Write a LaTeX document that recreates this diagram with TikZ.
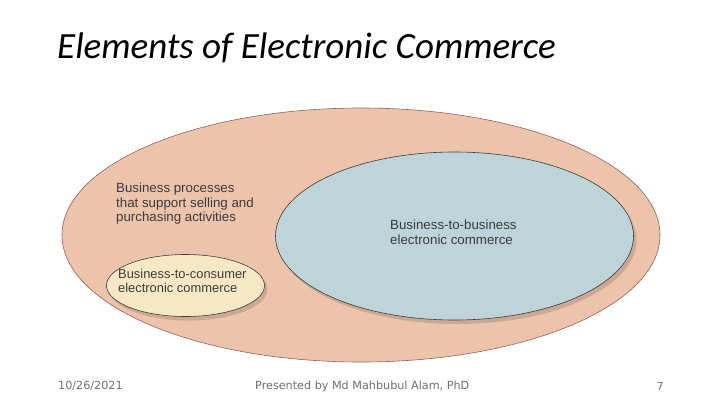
\documentclass[tikz,border=0pt]{standalone}
\usepackage{fontspec}
\setmainfont{Liberation Sans}
\newfontfamily\titlefont{Carlito}
\newfontfamily\footfont{DejaVu Sans}
\usetikzlibrary{shadows,shapes.geometric}
\definecolor{outerfill}{RGB}{236,196,172}
\definecolor{outeredge}{RGB}{140,100,90}
\definecolor{bluefill}{RGB}{190,212,216}
\definecolor{blueedge}{RGB}{60,60,60}
\definecolor{yellowfill}{RGB}{246,232,196}
\definecolor{labeltext}{RGB}{60,60,60}
\definecolor{foottext}{RGB}{110,110,110}
\tikzset{
  region/.style={ellipse, inner sep=0pt, line width=0.6pt},
  lbl/.style={text=labeltext, font=\fontsize{13.3}{14.3}\selectfont, align=left, inner sep=0pt, anchor=north west},
  foot/.style={text=foottext, font=\footfont\fontsize{11.2}{13}\selectfont, inner sep=0pt},
  softshadow/.style={drop shadow={shadow xshift=3pt, shadow yshift=-4pt, fill=black!20!outerfill, opacity=0.7}}
}
\begin{document}
\begin{tikzpicture}[x=1pt,y=-1pt]
\useasboundingbox (0,0) rectangle (720,405);
\node[anchor=west, inner sep=0pt, font=\titlefont\itshape\fontsize{37}{40}\selectfont] (title) at (57,48) {Elements of Electronic Commerce};
\node[region, draw=outeredge, fill=outerfill, minimum width=598pt, minimum height=254pt] (outer) at (361,235) {};
\node[region, draw=blueedge, fill=bluefill, softshadow, minimum width=358pt, minimum height=168pt] (b2b) at (454.5,236) {};
\node[region, draw=blueedge, fill=yellowfill, softshadow, minimum width=158pt, minimum height=62pt] (b2c) at (185.5,285.5) {};
\node[lbl] (proc) at (116,183) {Business processes\\that support selling and\\purchasing activities};
\node[lbl] (b2btext) at (390,220) {Business-to-business\\electronic commerce};
\node[lbl, font=\fontsize{12.9}{14}\selectfont] (b2ctext) at (118,269) {Business-to-consumer\\electronic commerce};
\node[foot, anchor=west] (date) at (58,386) {10/26/2021};
\node[foot, anchor=west] (pres) at (255,386) {Presented by Md Mahbubul Alam, PhD};
\node[foot, anchor=east] (page) at (664,386) {7};
\end{tikzpicture}
\end{document}
